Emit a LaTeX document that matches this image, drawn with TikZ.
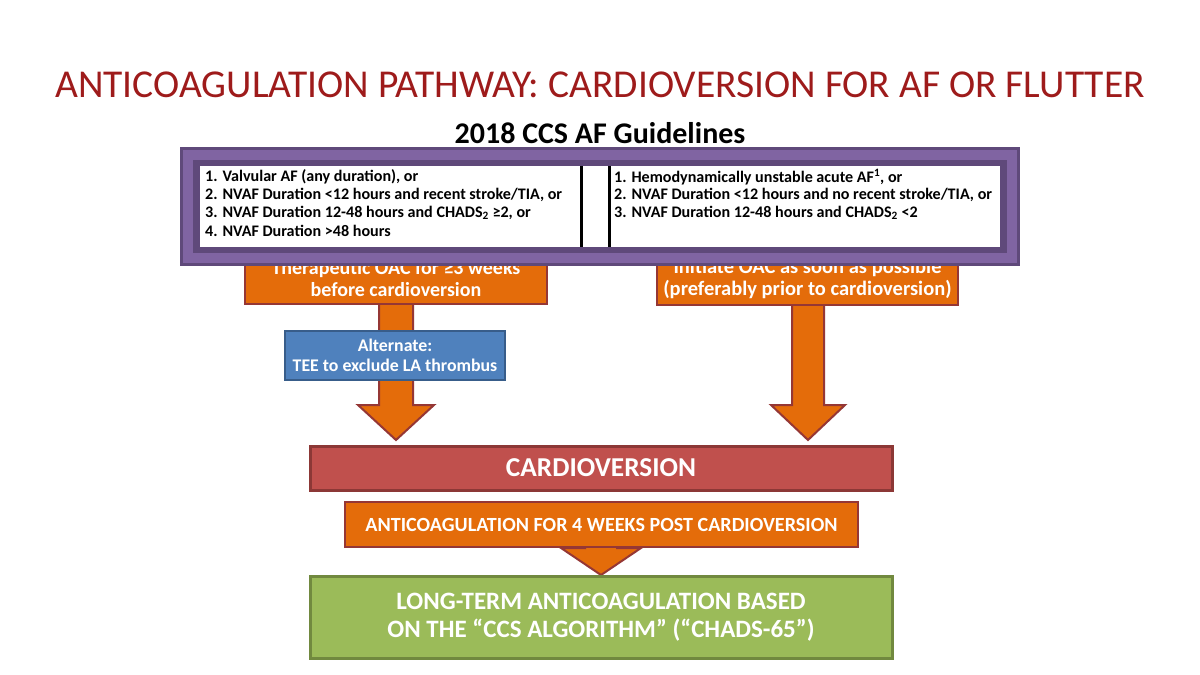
\documentclass[tikz,border=0pt]{standalone}
\usepackage{fontspec}
\setmainfont{Carlito}
\definecolor{titlered}{HTML}{9E1B1B}
\definecolor{orng}{HTML}{E46C0A}
\definecolor{orngbrd}{HTML}{953735}
\definecolor{plight}{HTML}{8064A2}
\definecolor{pdark}{HTML}{5F497A}
\definecolor{cvred}{HTML}{C0504D}
\definecolor{cvbrd}{HTML}{8C3836}
\definecolor{grn}{HTML}{9BBB59}
\definecolor{grnbrd}{HTML}{71893F}
\definecolor{blu}{HTML}{4F81BD}
\definecolor{blubrd}{HTML}{385D8A}
\tikzset{
  boxbase/.style={inner sep=0pt, align=center, text=white, font=\bfseries},
  obox/.style={boxbase, fill=orng, draw=orngbrd, line width=2pt},
  blockarrow/.style={fill=orng, draw=orngbrd, line width=2pt, line join=miter},
  listline/.style={anchor=west, inner sep=0pt, font=\bfseries\fontsize{16.1}{18}\selectfont},
}
\begin{document}
\begin{tikzpicture}[x=1pt,y=-1pt]
\useasboundingbox[fill=white] (0,0) rectangle (1200,675);

% title
\node[text=titlered, font=\fontsize{39.5}{46}\selectfont] (title) at (600,85) {ANTICOAGULATION PATHWAY: CARDIOVERSION FOR AF OR FLUTTER};
\node[font=\bfseries\fontsize{30}{35}\selectfont] (sub) at (600,133) {2018 CCS AF Guidelines};

% block arrows below the two upper boxes
\draw[blockarrow] (379,285) -- (413,285) -- (413,405) -- (434,405) -- (396,440) -- (358,405) -- (379,405) -- cycle;
\draw[blockarrow] (792,285) -- (824,285) -- (824,405) -- (845,405) -- (808,440) -- (771,405) -- (792,405) -- cycle;

% upper orange boxes
\node[obox, minimum width=302, minimum height=56] (lbox) at (396,276) {};
\node[boxbase, font=\bfseries\fontsize{20}{22}\selectfont] (ltext) at (396,279) {Therapeutic OAC for ≥3 weeks\\before cardioversion};
\node[obox, minimum width=301, minimum height=56] (rbox) at (807.5,277) {};
\node[boxbase, font=\bfseries\fontsize{20.5}{22}\selectfont] (rtext) at (807.5,279) {Initiate OAC as soon as possible\\(preferably prior to cardioversion)};

% purple guideline frame
\path[fill=plight, draw=pdark, line width=3pt] (181.5,148.5) rectangle (1018.5,264.5);
\path[fill=pdark] (193,160) rectangle (1007,253);
\path[fill=white] (200,166) rectangle (1000,247);
\coordinate (d1t) at (581.5,166); \coordinate (d1b) at (581.5,247);
\coordinate (d2t) at (609,166); \coordinate (d2b) at (609,247);
\draw[line width=3pt] (d1t) -- (d1b);
\draw[line width=3pt] (d2t) -- (d2b);

\node[listline] (l1) at (205,177) {1. Valvular AF (any duration), or};
\node[listline] (l2) at (205,195) {2. NVAF Duration <12 hours and recent stroke/TIA, or};
\node[listline] (l3) at (205,213) {3. NVAF Duration 12-48 hours and CHADS\textsubscript{2} ≥2, or};
\node[listline] (l4) at (205,231) {4. NVAF Duration >48 hours};
\node[listline] (r1) at (614,177) {1. Hemodynamically unstable acute AF\textsuperscript{1}, or};
\node[listline] (r2) at (614,195) {2. NVAF Duration <12 hours and no recent stroke/TIA, or};
\node[listline] (r3) at (614,213) {3. NVAF Duration 12-48 hours and CHADS\textsubscript{2} <2};

% alternate box
\node[boxbase, fill=blu, draw=blubrd, line width=2.5pt, minimum width=220, minimum height=49, font=\bfseries\fontsize{17.8}{19.5}\selectfont] (alt) at (395,355.5) {Alternate:\\TEE to exclude LA thrombus};

% cardioversion
\node[boxbase, fill=cvred, draw=cvbrd, line width=3pt, minimum width=582, minimum height=44, font=\bfseries\fontsize{27.3}{30}\selectfont] (cv) at (601,468) {CARDIOVERSION};

% small arrow
\draw[blockarrow] (585,530) -- (617,530) -- (617,548) -- (641,548) -- (601,575) -- (561,548) -- (585,548) -- cycle;

% anticoagulation box
\node[obox, minimum width=513, minimum height=45, font=\bfseries\fontsize{20.1}{22}\selectfont] (ac) at (601.5,524.5) {ANTICOAGULATION FOR 4 WEEKS POST CARDIOVERSION};

% long-term box
\node[boxbase, fill=grn, draw=grnbrd, line width=3pt, minimum width=582, minimum height=82, font=\bfseries\fontsize{25}{28}\selectfont] (lt) at (601,617) {LONG-TERM ANTICOAGULATION BASED\\ON THE “CCS ALGORITHM” (“CHADS-65”)};
\end{tikzpicture}
\end{document}
